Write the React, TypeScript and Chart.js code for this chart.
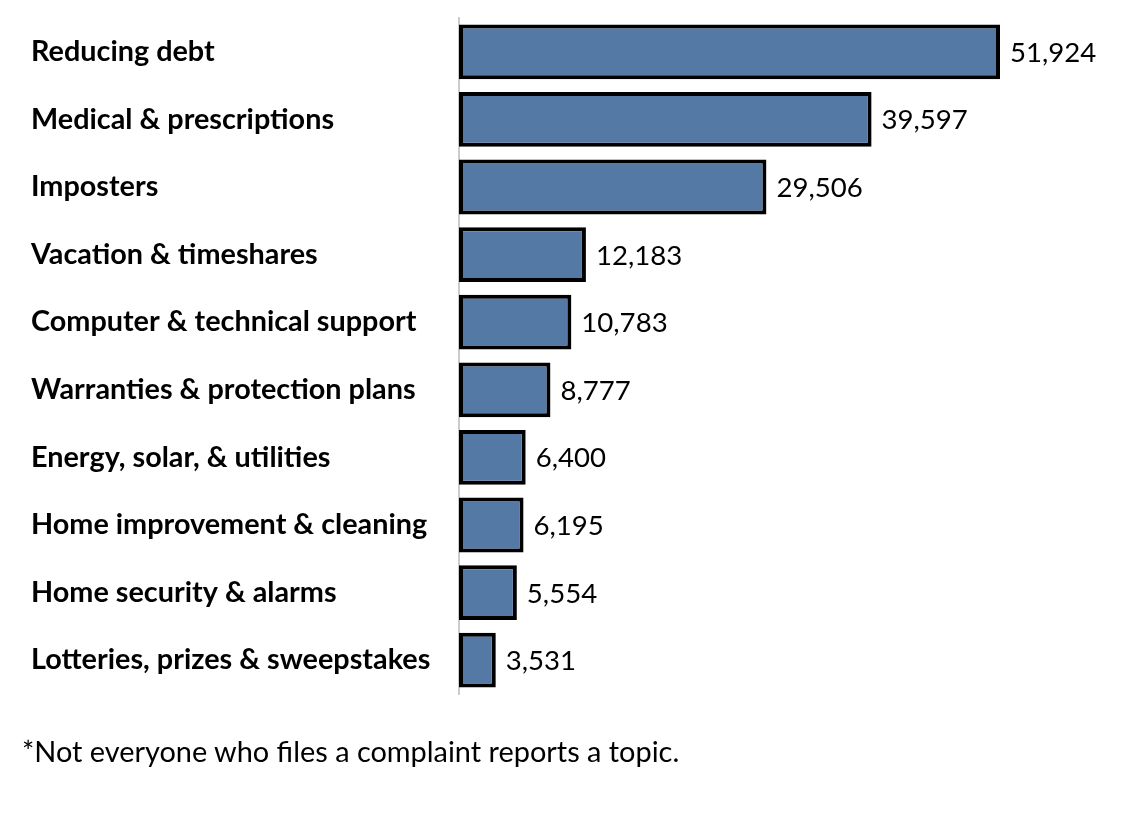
import React, { useEffect, useRef } from "react";
import { Chart, registerables } from "chart.js";

Chart.register(...registerables);

const categories = [
  "Reducing debt",
  "Medical & prescriptions",
  "Imposters",
  "Vacation & timeshares",
  "Computer & technical support",
  "Warranties & protection plans",
  "Energy, solar, & utilities",
  "Home improvement & cleaning",
  "Home security & alarms",
  "Lotteries, prizes & sweepstakes",
];
const values = [51924, 39597, 29506, 12183, 10783, 8777, 6400, 6195, 5554, 3531];
const footnote = "*Not everyone who files a complaint reports a topic.";

const FONT = "Lato, 'Open Sans', sans-serif";

const valueLabels = {
  id: "valueLabels",
  afterDatasetsDraw(chart: any) {
    const ctx = chart.ctx;
    const meta = chart.getDatasetMeta(0);
    ctx.save();
    ctx.font = `400 27.6px ${FONT}`;
    ctx.fillStyle = "#000";
    ctx.textAlign = "left";
    ctx.textBaseline = "middle";
    meta.data.forEach((bar: any, i: number) => {
      ctx.fillText(values[i].toLocaleString("en-US"), bar.x + 10, bar.y + 1);
    });
    ctx.restore();
  },
};

export default function App() {
  const ref = useRef<HTMLCanvasElement>(null);
  useEffect(() => {
    if (!ref.current) return;
    const chart = new Chart(ref.current, {
      type: "bar",
      data: {
        labels: categories,
        datasets: [
          {
            data: values,
            backgroundColor: "#5479A4",
            borderColor: "#000",
            borderWidth: 4,
            borderSkipped: false,
            categoryPercentage: 1,
            barPercentage: 0.81,
          },
        ],
      },
      options: {
        indexAxis: "y",
        responsive: false,
        animation: false,
        devicePixelRatio: 1,
        layout: { padding: { left: 31, right: 20, top: 18, bottom: 132 } },
        plugins: { legend: { display: false }, tooltip: { enabled: false } },
        scales: {
          x: { display: false, min: 0, max: 62000 },
          y: {
            afterFit: (s: any) => {
              s.width = 428;
            },
            grid: { display: false },
            border: { display: true, color: "#cccccc", width: 2 },
            ticks: {
              crossAlign: "far",
              padding: 0,
              color: "#000",
              font: { family: FONT, size: 28.8, weight: "bold" },
            },
          },
        },
      },
      plugins: [valueLabels],
    });
    return () => chart.destroy();
  }, []);
  return (
    <div style={{ position: "fixed", left: 0, top: 0, width: 1125, height: 826, background: "#fff" }}>
      <canvas ref={ref} width={1125} height={826} style={{ display: "block" }} />
      <div
        style={{
          position: "absolute",
          left: 22,
          top: 733,
          fontFamily: FONT,
          fontSize: 28.9,
          color: "#000",
          whiteSpace: "nowrap",
        }}
      >
        {footnote}
      </div>
    </div>
  );
}
